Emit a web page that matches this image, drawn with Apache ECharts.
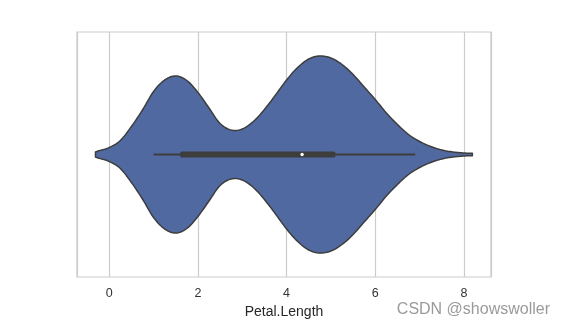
<!DOCTYPE html>
<html>
<head>
<meta charset="utf-8">
<script src="https://cdn.jsdelivr.net/npm/echarts@6/dist/echarts.min.js"></script>
<style>
html,body{margin:0;padding:0;background:#fff;}
#chart{width:566px;height:326px;}
</style>
</head>
<body>
<div id="chart"></div>
<script>
// Violin outline: positions along Petal.Length and half-widths (relative density)
const positions = [-0.31, -0.25, 0, 0.25, 0.5, 0.75, 1.0, 1.25, 1.5, 1.75, 2.0, 2.25, 2.5, 2.75, 3.0, 3.25, 3.5, 3.75, 4.0, 4.25, 4.5, 4.75, 5.0, 5.25, 5.5, 5.75, 6.0, 6.25, 6.5, 6.75, 7.0, 7.25, 7.5, 7.75, 8.0, 8.19];
const density = [0.025, 0.035, 0.07, 0.14, 0.28, 0.445, 0.63, 0.745, 0.785, 0.74, 0.62, 0.465, 0.31, 0.245, 0.255, 0.33, 0.45, 0.595, 0.745, 0.87, 0.955, 0.985, 0.965, 0.90, 0.80, 0.675, 0.55, 0.415, 0.30, 0.20, 0.13, 0.08, 0.045, 0.025, 0.015, 0.012];
// Inner box stats
const quartiles = [1.6, 5.1];
const whiskers = [1.0, 6.9];
const median = [4.35];
const axisTitle = 'Petal.Length';
const watermark = 'CSDN @showswoller';

const chart = echarts.init(document.getElementById('chart'), null, {renderer: 'canvas'});
const fillColor = '#5169a1';
const lineColor = '#3d3d3d';

// Catmull-Rom smoothing of pixel points (rendering only)
function smoothPts(p) {
  const out = [];
  const n = p.length;
  for (let i = 0; i < n - 1; i++) {
    const p0 = p[Math.max(0, i - 1)], p1 = p[i], p2 = p[i + 1], p3 = p[Math.min(n - 1, i + 2)];
    const steps = 8;
    for (let s = 0; s < steps; s++) {
      const t = s / steps, t2 = t * t, t3 = t2 * t;
      const f = (a, b, c, d) => 0.5 * ((2 * b) + (-a + c) * t + (2 * a - 5 * b + 4 * c - d) * t2 + (-a + 3 * b - 3 * c + d) * t3);
      out.push([f(p0[0], p1[0], p2[0], p3[0]), f(p0[1], p1[1], p2[1], p3[1])]);
    }
  }
  out.push(p[n - 1]);
  return out;
}

const option = {
  animation: false,
  backgroundColor: '#ffffff',
  grid: {left: 77, right: 75, top: 32, bottom: 49, show: true, borderColor: '#cccccc', borderWidth: 1.2, backgroundColor: 'transparent'},
  xAxis: {
    type: 'value', min: -0.727, max: 8.61, splitNumber: 5,
    axisLine: {show: false}, axisTick: {show: false},
    axisLabel: {showMinLabel: false, showMaxLabel: false, color: '#333333', fontSize: 12.5, fontFamily: 'Liberation Sans, Arial, sans-serif', margin: 10},
    splitLine: {show: true, lineStyle: {color: '#cccccc', width: 1.2}},
    name: axisTitle, nameLocation: 'middle', nameGap: 24,
    nameTextStyle: {color: '#262626', fontSize: 14, fontFamily: 'Liberation Sans, Arial, sans-serif'}
  },
  yAxis: {
    type: 'value', min: -1.225, max: 1.225,
    show: false, splitLine: {show: false}
  },
  graphic: [{
    type: 'text', right: 16, top: 302,
    style: {text: watermark, fill: '#9a9a9a', font: '16px "Liberation Sans", Arial, sans-serif'}
  }],
  series: [{
    type: 'custom',
    data: [[0, 0]],
    clip: false,
    renderItem: function (params, api) {
      const upper = smoothPts(positions.map((x, i) => api.coord([x, density[i]])));
      const lower = smoothPts(positions.map((x, i) => api.coord([x, -density[i]]))).reverse();
      const pts = upper.concat(lower);
      const q1 = api.coord([quartiles[0], 0]);
      const q3 = api.coord([quartiles[1], 0]);
      const w0 = api.coord([whiskers[0], 0]);
      const w1 = api.coord([whiskers[1], 0]);
      const md = api.coord([median[0], 0]);
      return {
        type: 'group',
        children: [
          {type: 'polygon', shape: {points: pts}, style: {fill: fillColor, stroke: lineColor, lineWidth: 1.5, lineJoin: 'round'}},
          {type: 'line', shape: {x1: w0[0], y1: w0[1], x2: w1[0], y2: w1[1]}, style: {stroke: lineColor, lineWidth: 1.8}},
          {type: 'rect', shape: {x: q1[0], y: q1[1] - 3, width: q3[0] - q1[0], height: 6, r: 1.5}, style: {fill: lineColor}},
          {type: 'circle', shape: {cx: md[0], cy: md[1], r: 1.7}, style: {fill: '#ffffff'}}
        ]
      };
    }
  }]
};
chart.setOption(option);
</script>
</body>
</html>
